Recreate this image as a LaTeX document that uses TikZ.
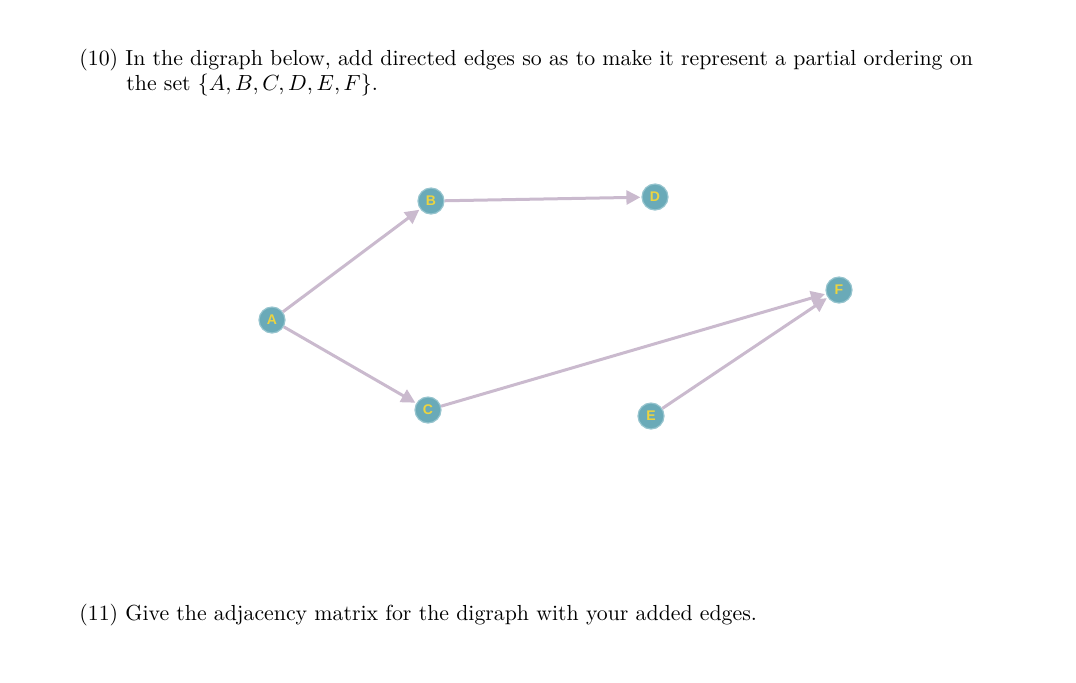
\documentclass[tikz,border=0pt]{standalone}
\usepackage{fontspec}
\newfontfamily\lblfont{Liberation Sans}
\usetikzlibrary{arrows.meta}
\begin{document}
\begin{tikzpicture}[x=0.5pt, y=-0.5pt,
    question/.style={anchor=base west, inner sep=0pt, font=\fontsize{10.9}{13}\selectfont},
    vertex/.style={circle, fill=nodeteal, draw=nodeedge, line width=0.6pt, minimum size=13pt, inner sep=0pt,
                   text=lblyellow, font=\lblfont\bfseries\fontsize{7}{8}\selectfont},
    edge/.style={draw=edgelilac, line width=1.5pt, -{Triangle[length=7pt, width=7pt]}, shorten >=0.5pt}]
            \definecolor{nodeteal}{RGB}{106,170,184}
            \definecolor{nodeedge}{RGB}{150,196,206}
            \definecolor{lblyellow}{RGB}{236,212,64}
            \definecolor{edgelilac}{RGB}{202,186,206}
            \useasboundingbox (0,0) rectangle (1076,682);

            \node[question] (q10a) at (79,65) {(10) In the digraph below, add directed edges so as to make it represent a partial ordering on};
            \node[question] (q10b) at (126,90) {the set $\{A,B,C,D,E,F\}$.};

            \node[vertex] (A) at (272,320) {A};
            \node[vertex] (B) at (431,201) {B};
            \node[vertex] (D) at (655,197) {D};
            \node[vertex] (F) at (839,290) {F};
            \node[vertex] (C) at (428,410) {C};
            \node[vertex] (E) at (651,416) {E};

            \draw[edge] (A) -- (B);
            \draw[edge] (A) -- (C);
            \draw[edge] (B) -- (D);
            \draw[edge] (C) -- (F);
            \draw[edge] (E) -- (F);

            \node[question] (q11) at (79,620) {(11) Give the adjacency matrix for the digraph with your added edges.};
        \end{tikzpicture}
\end{document}
